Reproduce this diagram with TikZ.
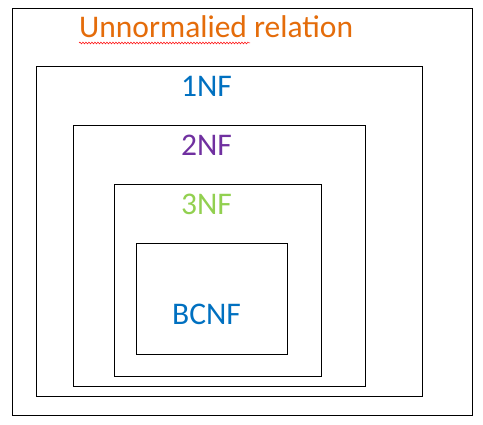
\documentclass[tikz,border=0pt]{standalone}
\usepackage{fontspec}
\setmainfont{Carlito}
\usetikzlibrary{decorations.pathmorphing}
\definecolor{oorange}{HTML}{E46C0A}
\definecolor{oblue}{HTML}{0070C0}
\definecolor{opurple}{HTML}{7030A0}
\definecolor{ogreen}{HTML}{92D050}
\tikzset{
  box/.style={draw=black, line width=1pt},
  lbl/.style={inner sep=0pt, anchor=base, font=\fontsize{31.5}{36}\selectfont},
}
\begin{document}
\begin{tikzpicture}[x=1pt,y=1pt]
\useasboundingbox (0,0) rectangle (483,425);
% boxes (y = 425 - pixel y)
\draw[box] (12.5,9) rectangle (472.5,416.5);
\draw[box] (36.5,28) rectangle (422,358);
\draw[box] (73.5,38.5) rectangle (365,299);
\draw[box] (114.5,48) rectangle (321,240);
\draw[box] (136.5,70.5) rectangle (287,181);
% labels
\node[lbl, anchor=base west, text=oorange] (title) at (79,387) {Unnormalied relation};
\draw[red, line width=0.5pt, decorate, decoration={snake, segment length=3pt, amplitude=0.9pt}] (79,382) -- (250,382);
\node[lbl, text=oblue] (nf1) at (206.5,328) {1NF};
\node[lbl, text=opurple] (nf2) at (206.5,269) {2NF};
\node[lbl, text=ogreen] (nf3) at (206.5,210) {3NF};
\node[lbl, text=oblue] (bcnf) at (206.5,100) {BCNF};
\end{tikzpicture}
\end{document}
